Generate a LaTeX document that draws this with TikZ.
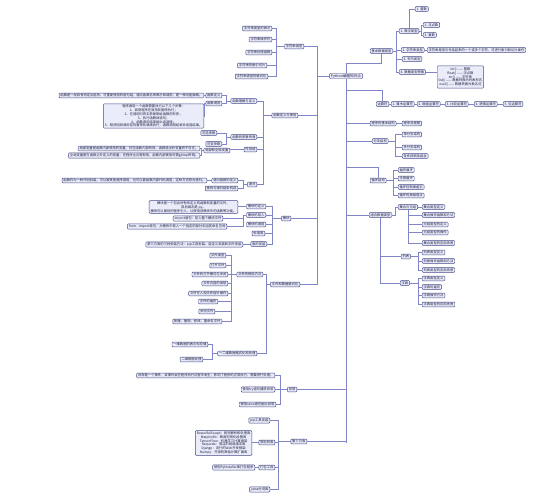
\documentclass[tikz,border=0pt]{standalone}
\usepackage{fontspec}
\setmainfont{Noto Sans CJK SC}
\definecolor{bcol}{RGB}{70,74,138}
\definecolor{fcol}{RGB}{234,236,250}
\definecolor{lcol}{RGB}{128,134,200}
\definecolor{tcol}{RGB}{28,30,64}
\tikzset{
  box/.style={draw=bcol, fill=fcol, rounded corners=0.8pt, line width=0.45pt,
    inner xsep=1.4pt, inner ysep=0.8pt, font=\fontsize{3.3}{3.9}\selectfont,
    text=tcol, align=center},
  lbox/.style={box, anchor=east},
  rbox/.style={box, anchor=west},
  conn/.style={draw=lcol, line width=0.55pt},
}
\begin{document}
\begin{tikzpicture}[x=1pt,y=-1pt]
\path[use as bounding box, fill=white] (0,0) rectangle (538,500);

% ---------- root ----------
\node[box, font=\fontsize{3.6}{4.2}\selectfont] (root) at (346,76) {Python编程知识点};
\coordinate (LT) at (317,76);

% ---------- right side ----------
\node[rbox] (jb) at (370,51) {基本数据类型};
\node[rbox] (szlx) at (399,31) {1. 数字类型};
\node[rbox] (zs) at (415,9) {1. 整数};
\node[rbox] (fds) at (423,25) {2. 浮点数};
\node[rbox] (fs) at (423,35) {3. 复数};
\node[rbox] (zfc) at (401,50) {2. 字符串类型};
\node[rbox] (zfct) at (427,50) {字符串是用引号括起来的一个或多个字符，可进行索引和切片操作};
\node[rbox] (bool) at (402,59) {3. 布尔类型};
\node[rbox] (zh) at (399,72) {4. 数据类型转换};
\node[rbox, inner ysep=1.6pt] (zht) at (437,77) {int() —— 整数\\float() —— 浮点数\\str() —— 字符串\\list() —— 数据转换为列表形式\\eval() —— 数据转换为表达式};

\node[rbox] (ysf) at (376,104) {运算符};
\node[rbox] (y1) at (391,104) {1. 算术运算符};
\node[rbox] (y2) at (417,104) {2. 赋值运算符};
\node[rbox] (y3) at (445,104) {3. 比较运算符};
\node[rbox] (y4) at (474,104) {4. 逻辑运算符};
\node[rbox] (y5) at (503,104) {5. 位运算符};

\node[rbox] (jbjg) at (370,123.5) {程序的基本结构};
\node[rbox] (lct) at (402,123.5) {程序流程图};

\node[rbox] (fz) at (372,141) {分支结构};
\node[rbox] (f1) at (402,134.5) {单分支结构};
\node[rbox] (f2) at (402,147.5) {多分支结构};
\node[rbox] (f3) at (402,156) {条件判断及组合};

\node[rbox] (xh) at (370,180.5) {循环结构};
\node[rbox] (x1) at (398,170) {遍历循环};
\node[rbox] (x2) at (398,178.5) {无限循环};
\node[rbox] (x3) at (398,187) {循环控制保留字};
\node[rbox] (x4) at (398,195.5) {循环的高级用法};

\node[rbox] (zhsj) at (369,215) {组合数据类型};
\node[rbox] (jhyz) at (398,207) {集合与元组};
\node[rbox] (c1) at (422,207) {集合类型定义};
\node[rbox] (c2) at (422,215) {集合操作函数和方法};
\node[rbox] (c3) at (422,224.5) {元组类型的定义};
\node[rbox] (c4) at (422,232.5) {元组类型的操作};
\node[rbox] (c5) at (422,243) {集合类型的应用场景};
\node[rbox] (lb) at (401,256.5) {列表};
\node[rbox] (l1) at (422,252.5) {列表类型定义};
\node[rbox] (l2) at (422,261) {列表操作函数和方法};
\node[rbox] (l3) at (422,270) {列表类型的应用场景};
\node[rbox] (zd) at (400,283) {字典};
\node[rbox] (d1r) at (422,278.5) {字典类型定义};
\node[rbox] (d2r) at (422,287) {字典的遍历};
\node[rbox] (d3r) at (422,295.5) {字典操作方法};
\node[rbox] (d4r) at (422,304.5) {字典类型的应用场景};

% ---------- left side ----------
\node[lbox] (zfclx) at (304,46.5) {字符串类型};
\node[lbox] (s1) at (272,28.5) {字符串类型的表示};
\node[lbox] (s2) at (272,39.5) {字符串操作符};
\node[lbox] (s3) at (272,52.5) {字符串处理函数};
\node[lbox] (s4) at (267,65.5) {字符串的索引切片};
\node[lbox] (s5) at (268,76.5) {字符串类型的格式化};

\node[lbox] (hsdy) at (298,115.5) {函数定义与使用};
\node[lbox] (lj) at (257,101) {函数理解与定义};
\node[lbox] (hd) at (222,95.5) {函数定义};
\node[lbox] (hdt) at (204,95.5) {函数是一段具有特定功能的、可重复使用的语句组，通过函数名来表示和调用，是一种功能抽象。};
\node[lbox] (hdy) at (222,103.5) {函数调用};
\node[lbox] (hdyt) at (204,116) {程序调用一个函数需要执行以下几个步骤：\\1、调用程序在调用处暂停执行；\\2、在调用时将实参复制给函数的形参；\\3、执行函数体语句；\\4、函数调用结束给出返回值；\\5、程序回到调用前的暂停处继续执行，函数调用结束并返回结果。};
\node[lbox] (cs) at (257,137) {函数的参数传递};
\node[lbox] (cs1) at (217,133) {可选参数};
\node[lbox] (cs2) at (222,144) {可变参数};
\node[lbox] (zyy) at (257,149.5) {作用域};
\node[lbox] (jq) at (230,150.5) {局部和全局变量};
\node[lbox] (jq1) at (200,148.5) {局部变量是函数内部使用的变量，仅在函数内部有效，函数退出时变量将不存在。};
\node[lbox] (jq2) at (200,155.5) {全局变量是在函数之外定义的变量，在程序全过程有效，函数内部使用时需global声明。};
\node[lbox] (dg) at (257,184.5) {递归};
\node[lbox] (dg1) at (238,180.5) {递归函数的定义};
\node[lbox] (dg1t) at (207,180.5) {函数作为一种代码封装，可以被其他程序调用，也可以被函数内部代码调用，这种方式称为递归。};
\node[lbox] (dg2) at (238,188.5) {基例与递归链条构成};

\node[lbox] (mk) at (291,218.5) {模块};
\node[lbox] (m1) at (266,206.5) {模块的定义};
\node[lbox] (m1t) at (238,207) {模块是一个包含所有你定义的函数和变量的文件，\\其后缀名是.py。\\模块可以被别的程序引入，以使用该模块中的函数等功能。};
\node[lbox] (m2) at (266,215) {模块的导入};
\node[lbox] (m2a) at (223,218.5) {import语句：导入整个模块文件};
\node[lbox] (m2b) at (227,226.5) {from...import语句：从模块中导入一个指定的部分到当前命名空间};
\node[lbox] (m3) at (266,224.5) {模块的调用};
\node[lbox] (m4) at (265,233.5) {标准库};
\node[lbox] (m5) at (267,244) {库的安装};
\node[lbox] (m5t) at (243,244.5) {第三方库的三种安装方法：pip工具安装、自定义安装和文件安装};

\node[lbox] (wj) at (300,284.5) {文件和数据格式化};
\node[lbox] (wjsy) at (263,274.5) {文件的使用方法};
\node[lbox] (w1) at (226,255.5) {文件类型};
\node[lbox] (w2) at (226,265.5) {打开文件};
\node[lbox] (w3) at (228,274.5) {文件的打开模式与关闭};
\node[lbox] (w4) at (228,283.5) {文件内容的读取};
\node[lbox] (w5) at (228,293.5) {文件写入和文件指针操作};
\node[lbox] (w6) at (218,301.5) {文件的遍历};
\node[lbox] (w7) at (215,311.5) {关闭文件};
\node[lbox] (w8) at (222,321.5) {新建、删除、修改、重命名文件};
\node[lbox] (sjgs) at (257,353.5) {一二维数据格式化和处理};
\node[lbox] (sd1) at (208,344.5) {一维数据的表示和存储};
\node[lbox] (sd2) at (203,359.5) {二维数据处理};

\node[lbox] (yc) at (297,389.5) {异常};
\node[lbox] (yc1) at (275,375.5) {异常是一个事件，该事件会在程序执行过程中发生，影响了程序的正常执行，需要进行处理。};
\node[lbox] (yc2) at (275,389.5) {使用try语句捕获异常};
\node[lbox] (yc3) at (276,404.5) {使用raise语句抛出异常};

\node[lbox] (dsf) at (307,441.5) {第三方库};
\node[lbox] (t1) at (270,420.5) {pip工具安装};
\node[lbox] (t2) at (275,442.5) {常用的库};
\node[lbox] (t2t) at (252,443) {BeautifulSoup4：网页解析和处理库\\Matplotlib：数据可视化绘图库\\TensorFlow：机器学习计算框架\\Requests：简洁的网络请求库\\Django：流行的Web开发框架\\Numpy：开源的数值计算扩展库};
\node[lbox] (t3) at (275,467.5) {打包工具};
\node[lbox] (t3t) at (255,467.5) {使用PyInstaller库打包程序};
\node[lbox] (t4) at (270,489.5) {jieba分词库};

% ---------- connectors: trunks ----------
\draw[conn] (root.north) -- (root.north |- 0,63) -| (jb.south);
\draw[conn] (root.south) -- (root.south |- 0,443);
\draw[conn] (root.south |- 0,90) -| (ysf.north);
\draw[conn] (root.south |- jbjg.west) -- (jbjg.west);
\draw[conn] (root.south |- fz.west) -- (fz.west);
\draw[conn] (root.south |- 0,167) -| (xh.north);
\draw[conn] (root.south |- zhsj.west) -- (zhsj.west);
\draw[conn] (yc.east) -- (yc.east -| root.south);
\draw[conn] (dsf.east) -- (dsf.east -| root.south);
\draw[conn] (root.west) -- (LT);
\foreach \c in {zfclx,hsdy,mk,wj} \draw[conn] (LT) |- (\c.east);

% ---------- right connectors ----------
\foreach \c in {szlx,zfc,bool,zh} \draw[conn] (jb.east) -- ++(3.5,0) |- (\c.west);
\draw[conn] (szlx.north) |- (zs.west);
\foreach \c in {fds,fs} \draw[conn] (szlx.east) -- ++(2.5,0) |- (\c.west);
\draw[conn] (zfc.east) -- (zfct.west);
\draw[conn] (zh.east) -- (zh.east -| zht.west);
\draw[conn] (ysf.east) -- (y1.west);
\draw[conn] (y1.east) -- (y2.west);
\draw[conn] (y2.east) -- (y3.west);
\draw[conn] (y3.east) -- (y4.west);
\draw[conn] (y4.east) -- (y5.west);
\draw[conn] (jbjg.east) -- (lct.west);
\foreach \c in {f1,f2,f3} \draw[conn] (fz.east) -- ++(7,0) |- (\c.west);
\foreach \c in {x1,x2,x3,x4} \draw[conn] (xh.east) -- ++(7,0) |- (\c.west);
\draw[conn] (zhsj.east) -- ++(3.5,0) |- (jhyz.west);
\foreach \c in {lb,zd} \draw[conn] (zhsj.south) |- (\c.west);
\draw[conn] (jhyz.east) -- (c1.west);
\foreach \c in {c2,c3,c4,c5} \draw[conn] (jhyz.south) |- (\c.west);
\foreach \c in {l1,l2,l3} \draw[conn] (lb.east) -- ++(7,0) |- (\c.west);
\foreach \c in {d1r,d2r,d3r,d4r} \draw[conn] (zd.east) -- ++(8,0) |- (\c.west);

% ---------- left connectors ----------
\foreach \c in {s1,s2,s3,s4,s5} \draw[conn] (zfclx.west) -- ++(-8,0) |- (\c.east);
\foreach \c in {lj,cs,zyy,dg} \draw[conn] (hsdy.west) -- ++(-8,0) |- (\c.east);
\foreach \c in {hd,hdy} \draw[conn] (lj.west) -- ++(-4,0) |- (\c.east);
\draw[conn] (hd.west) -- (hdt.east);
\draw[conn] (hdy.west) -- ++(-1,0) |- (hdyt.east);
\foreach \c in {cs1,cs2} \draw[conn] (cs.west) -- ++(-4,0) |- (\c.east);
\draw[conn] (zyy.west) -- (zyy.west -| jq.east);
\foreach \c in {jq1,jq2} \draw[conn] (jq.west) -- ++(-2,0) |- (\c.east);
\foreach \c in {dg1,dg2} \draw[conn] (dg.west) -- ++(-4,0) |- (\c.east);
\draw[conn] (dg1.west) -- (dg1t.east);
\foreach \c in {m1,m2,m3,m4,m5} \draw[conn] (mk.west) -- ++(-9,0) |- (\c.east);
\draw[conn] (m1.west) -- (m1.west -| m1t.east);
\foreach \c in {m2a,m2b} \draw[conn] (m2.west) -- ++(-3,0) |- (\c.east);
\draw[conn] (m5.west) -- (m5.west -| m5t.east);
\foreach \c in {wjsy,sjgs} \draw[conn] (wj.west) -- ++(-4,0) |- (\c.east);
\foreach \c in {w1,w2,w3,w4,w5,w6,w7,w8} \draw[conn] (wjsy.west) -- ++(-5,0) |- (\c.east);
\foreach \c in {sd1,sd2} \draw[conn] (sjgs.west) -- ++(-5,0) |- (\c.east);
\foreach \c in {yc1,yc2,yc3} \draw[conn] (yc.west) -- ++(-7,0) |- (\c.east);
\foreach \c in {t1,t2,t3,t4} \draw[conn] (dsf.west) -- ++(-12,0) |- (\c.east);
\draw[conn] (t2.west) -- (t2.west -| t2t.east);
\draw[conn] (t3.west) -- (t3t.east);
\end{tikzpicture}
\end{document}
